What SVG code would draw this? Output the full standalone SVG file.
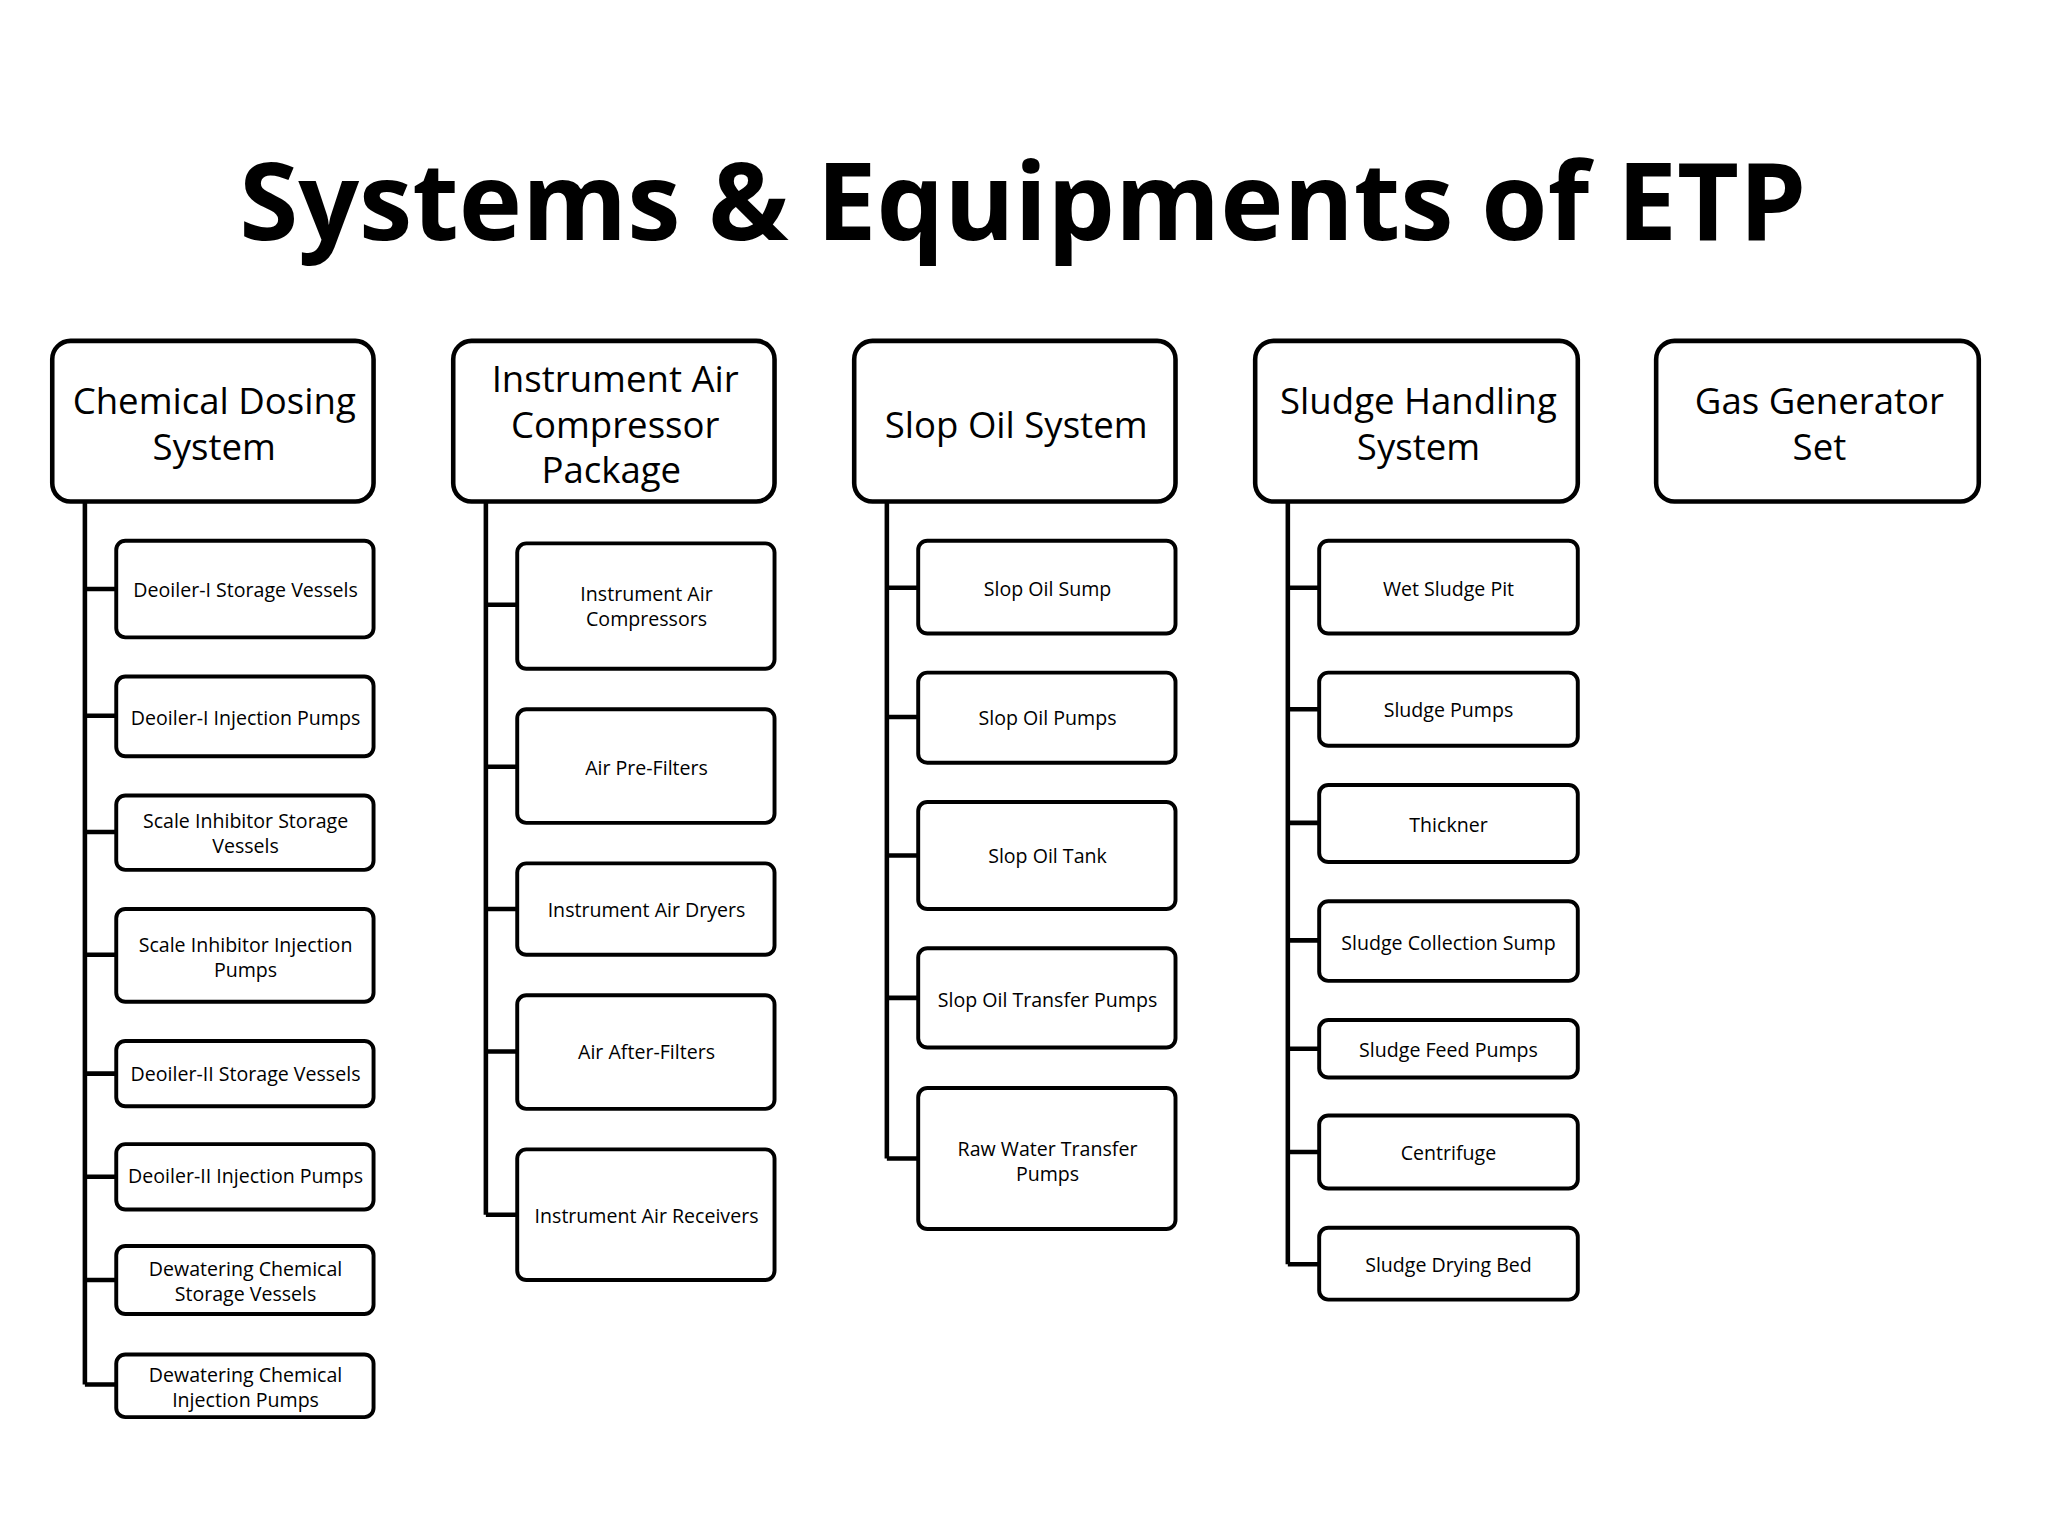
<svg xmlns="http://www.w3.org/2000/svg" width="2048" height="1536" viewBox="0 0 2048 1536">
<style>
.h{fill:#fff;stroke:#000;stroke-width:3.5}
.c{fill:#fff;stroke:#000;stroke-width:3}
.ht{font-family:"Open Sans","Noto Sans",sans-serif;font-size:28px;text-anchor:middle;fill:#000}
.ct{font-family:"Open Sans","Noto Sans",sans-serif;font-size:15px;text-anchor:middle;fill:#000}
.ln{stroke:#000;stroke-width:3.5;fill:none}
</style>
<rect width="2048" height="1536" fill="#fff"/>
<g transform="scale(1.30612)">
<text x="783" y="184" font-family="Open Sans, Noto Sans, sans-serif" font-size="82" font-weight="bold" text-anchor="middle">Systems &amp; Equipments of ETP</text>
<g id="connectors">
<path class="ln" d="M65 384V1060M65 451H89M65 548H89M65 637H89M65 731H89M65 822H89M65 901H89M65 980H89M65 1060H89"/>
<path class="ln" d="M372 384V930M372 463H396M372 587H396M372 696H396M372 805H396M372 930H396"/>
<path class="ln" d="M679 384V887M679 450H703M679 549H703M679 655H703M679 764H703M679 887H703"/>
<path class="ln" d="M986 384V968M986 450H1010M986 543H1010M986 630H1010M986 720H1010M986 803H1010M986 882H1010M986 968H1010"/>
</g>
<g id="h1"><rect class="h" x="40" y="261" width="246" height="123" rx="14"/><text class="ht" x="164" y="317">Chemical Dosing</text><text class="ht" x="164" y="352">System</text></g>
<g id="h2"><rect class="h" x="347" y="261" width="246" height="123" rx="14"/><text class="ht" x="471" y="300">Instrument Air</text><text class="ht" x="471" y="335">Compressor</text><text class="ht" x="468" y="370">Package</text></g>
<g id="h3"><rect class="h" x="654" y="261" width="246" height="123" rx="14"/><text class="ht" x="778" y="335">Slop Oil System</text></g>
<g id="h4"><rect class="h" x="961" y="261" width="247" height="123" rx="14"/><text class="ht" x="1086" y="317">Sludge Handling</text><text class="ht" x="1086" y="352">System</text></g>
<g id="h5"><rect class="h" x="1268" y="261" width="247" height="123" rx="14"/><text class="ht" x="1393" y="317">Gas Generator</text><text class="ht" x="1393" y="352">Set</text></g>

<g id="c1a"><rect class="c" x="89" y="414" width="197" height="74" rx="7"/><text class="ct" x="188" y="457">Deoiler-I Storage Vessels</text></g>
<g id="c1b"><rect class="c" x="89" y="518" width="197" height="61" rx="7"/><text class="ct" x="188" y="555">Deoiler-I Injection Pumps</text></g>
<g id="c1c"><rect class="c" x="89" y="609" width="197" height="57" rx="7"/><text class="ct" x="188" y="634">Scale Inhibitor Storage</text><text class="ct" x="188" y="653">Vessels</text></g>
<g id="c1d"><rect class="c" x="89" y="696" width="197" height="71" rx="7"/><text class="ct" x="188" y="729">Scale Inhibitor Injection</text><text class="ct" x="188" y="748">Pumps</text></g>
<g id="c1e"><rect class="c" x="89" y="797" width="197" height="50" rx="7"/><text class="ct" x="188" y="828">Deoiler-II Storage Vessels</text></g>
<g id="c1f"><rect class="c" x="89" y="876" width="197" height="50" rx="7"/><text class="ct" x="188" y="906">Deoiler-II Injection Pumps</text></g>
<g id="c1g"><rect class="c" x="89" y="954" width="197" height="52" rx="7"/><text class="ct" x="188" y="977">Dewatering Chemical</text><text class="ct" x="188" y="996">Storage Vessels</text></g>
<g id="c1h"><rect class="c" x="89" y="1037" width="197" height="48" rx="7"/><text class="ct" x="188" y="1058">Dewatering Chemical</text><text class="ct" x="188" y="1077">Injection Pumps</text></g>

<g id="c2a"><rect class="c" x="396" y="416" width="197" height="96" rx="7"/><text class="ct" x="495" y="460">Instrument Air</text><text class="ct" x="495" y="479">Compressors</text></g>
<g id="c2b"><rect class="c" x="396" y="543" width="197" height="87" rx="7"/><text class="ct" x="495" y="593">Air Pre-Filters</text></g>
<g id="c2c"><rect class="c" x="396" y="661" width="197" height="70" rx="7"/><text class="ct" x="495" y="702">Instrument Air Dryers</text></g>
<g id="c2d"><rect class="c" x="396" y="762" width="197" height="87" rx="7"/><text class="ct" x="495" y="811">Air After-Filters</text></g>
<g id="c2e"><rect class="c" x="396" y="880" width="197" height="100" rx="7"/><text class="ct" x="495" y="936">Instrument Air Receivers</text></g>

<g id="c3a"><rect class="c" x="703" y="414" width="197" height="71" rx="7"/><text class="ct" x="802" y="456">Slop Oil Sump</text></g>
<g id="c3b"><rect class="c" x="703" y="515" width="197" height="69" rx="7"/><text class="ct" x="802" y="555">Slop Oil Pumps</text></g>
<g id="c3c"><rect class="c" x="703" y="614" width="197" height="82" rx="7"/><text class="ct" x="802" y="661">Slop Oil Tank</text></g>
<g id="c3d"><rect class="c" x="703" y="726" width="197" height="76" rx="7"/><text class="ct" x="802" y="771">Slop Oil Transfer Pumps</text></g>
<g id="c3e"><rect class="c" x="703" y="833" width="197" height="108" rx="7"/><text class="ct" x="802" y="885">Raw Water Transfer</text><text class="ct" x="802" y="904">Pumps</text></g>

<g id="c4a"><rect class="c" x="1010" y="414" width="198" height="71" rx="7"/><text class="ct" x="1109" y="456">Wet Sludge Pit</text></g>
<g id="c4b"><rect class="c" x="1010" y="515" width="198" height="56" rx="7"/><text class="ct" x="1109" y="549">Sludge Pumps</text></g>
<g id="c4c"><rect class="c" x="1010" y="601" width="198" height="59" rx="7"/><text class="ct" x="1109" y="637">Thickner</text></g>
<g id="c4d"><rect class="c" x="1010" y="690" width="198" height="61" rx="7"/><text class="ct" x="1109" y="727">Sludge Collection Sump</text></g>
<g id="c4e"><rect class="c" x="1010" y="781" width="198" height="44" rx="7"/><text class="ct" x="1109" y="809">Sludge Feed Pumps</text></g>
<g id="c4f"><rect class="c" x="1010" y="854" width="198" height="56" rx="7"/><text class="ct" x="1109" y="888">Centrifuge</text></g>
<g id="c4g"><rect class="c" x="1010" y="940" width="198" height="55" rx="7"/><text class="ct" x="1109" y="974">Sludge Drying Bed</text></g>
</g>
</svg>
